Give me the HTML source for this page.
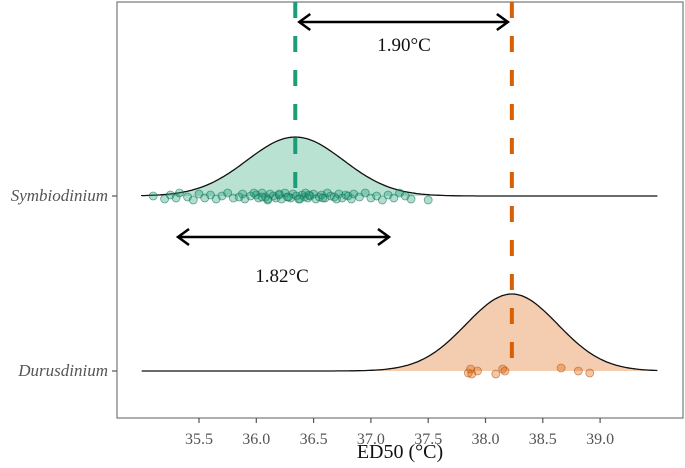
<!DOCTYPE html>
<html><head><meta charset="utf-8"><style>
body{margin:0;background:#fff}
svg text{font-family:"Liberation Serif",serif}
</style></head><body>
<svg id="chart" width="685" height="463" viewBox="0 0 685 463">
<rect x="117" y="2" width="566" height="416" fill="#fff" stroke="#777" stroke-width="1.2"/>
<g id="marks"></g>
</svg>
<script>
const xTicks=[35.5,36.0,36.5,37.0,37.5,38.0,38.5,39.0];
const groups=["Symbiodinium","Durusdinium"];
const means=[36.34,38.23];
const sds=[0.42,0.40];
const peakHeights=[59,77];
const symbPoints=[35.1,35.2,35.25,35.3,35.33,35.4,35.45,35.5,35.55,35.6,35.65,35.7,35.75,35.8,35.85,35.88,35.9,35.95,36.0,36.02,36.05,36.08,36.1,36.12,36.15,36.17,36.2,36.22,36.25,36.27,36.3,36.32,36.35,36.37,36.4,36.42,36.43,36.45,36.47,36.5,36.52,36.55,36.57,36.6,36.62,36.65,36.68,36.7,36.72,36.75,36.78,36.8,36.83,36.85,36.9,36.95,37.0,37.05,37.1,37.15,37.2,37.25,37.3,37.35,37.5,36.2,36.28,36.38,36.46,36.58,36.1,35.98,36.05];
const symbJitter=[0,3,-1,2,-3,1,4,-2,2,-1,3,0,-3,2,1,-2,3,0,-1,2,-3,1,3,-2,0,2,-1,3,-3,1,2,-2,0,3,-1,1,-3,2,0,-2,3,1,-1,2,-3,0,1,3,-2,2,-1,0,3,-2,1,-3,2,0,4,-1,2,-3,0,3,4,-2,1,3,-1,2,4,-3,1];
const durPoints=[37.85,37.87,37.88,37.93,38.09,38.15,38.17,38.66,38.81,38.91];
const durJitter=[2,-2,3,0,3,-2,0,-3,0,2];
const diffs=["1.90°C","1.82°C"];

const NS="http://www.w3.org/2000/svg";
const g=document.getElementById('marks');
const X=v=>199+(v-35.5)*114.6;
const baseY=[196,371];
function el(t,a,p){const e=document.createElementNS(NS,t);for(const k in a)e.setAttribute(k,a[k]);(p||g).appendChild(e);return e;}
const fills=["#b9e2d3","#f4cdb0"];
const ptFill=["rgba(27,158,119,0.35)","rgba(217,95,2,0.35)"];
const ptStroke=["rgba(20,110,80,0.6)","rgba(180,80,10,0.6)"];
const lineCol=["#1b9e77","#d95f02"];
for(let i=0;i<2;i++){
  let d=`M${X(35.0)},${baseY[i]}`;
  for(let v=35.0;v<=39.5001;v+=0.02){const y=baseY[i]-peakHeights[i]*Math.exp(-0.5*((v-means[i])/sds[i])**2);d+=` L${X(v).toFixed(1)},${y.toFixed(1)}`;}
  const poly=el('path',{d:d+` L${X(39.5)},${baseY[i]} Z`,fill:fills[i],stroke:'none'});
  
  
  const ln=el('path',{d:d,fill:'none',stroke:'#111','stroke-width':1.3});
  
  
  const pts=i==0?symbPoints:durPoints, jit=i==0?symbJitter:durJitter;
  pts.forEach((v,j)=>{const c=el('circle',{cx:X(v),cy:baseY[i]+jit[j],r:4,fill:ptFill[i],stroke:ptStroke[i],'stroke-width':0.8});
    
    });
  const t=el('text',{x:108,y:baseY[i]+5,'text-anchor':'end','font-size':17,'font-style':'italic',fill:'#555'});
  t.textContent=groups[i];
  
  
  const tk=el('line',{x1:112,x2:117,y1:baseY[i],y2:baseY[i],stroke:'#555','stroke-width':1.2});
  
  
}
for(let i=0;i<2;i++){
  const l=el('line',{x1:X(means[i]),x2:X(means[i]),y1:2,y2:i==0?196:372,stroke:lineCol[i],'stroke-width':4,'stroke-dasharray':'16 18'});
  
  
}
xTicks.forEach(v=>{
  const l=el('line',{x1:X(v),x2:X(v),y1:418,y2:423,stroke:'#555','stroke-width':1.2});
  
  
  const t=el('text',{x:X(v),y:444,'text-anchor':'middle','font-size':16,fill:'#555'});
  t.textContent=v.toFixed(1);
  
  
});
const xt=el('text',{x:400,y:458,'text-anchor':'middle','font-size':20,fill:'#111'});
xt.textContent="ED50 (°C)";


function arrow(x1,x2,y,name){
  const p=el('path',{d:`M${x1},${y} L${x2},${y} M${x1+11},${y-8} L${x1},${y} L${x1+11},${y+8} M${x2-11},${y-8} L${x2},${y} L${x2-11},${y+8}`,fill:'none',stroke:'#000','stroke-width':2.5});
  
  
}
arrow(X(means[0])+4,X(means[1])-4,22,'difference-arrow-top');
arrow(178,389,237,'difference-arrow-bottom');
const t1=el('text',{x:404,y:51,'text-anchor':'middle','font-size':19,fill:'#111'});
t1.textContent=diffs[0];


const t2=el('text',{x:282,y:282,'text-anchor':'middle','font-size':19,fill:'#111'});
t2.textContent=diffs[1];


</script>
</body></html>
